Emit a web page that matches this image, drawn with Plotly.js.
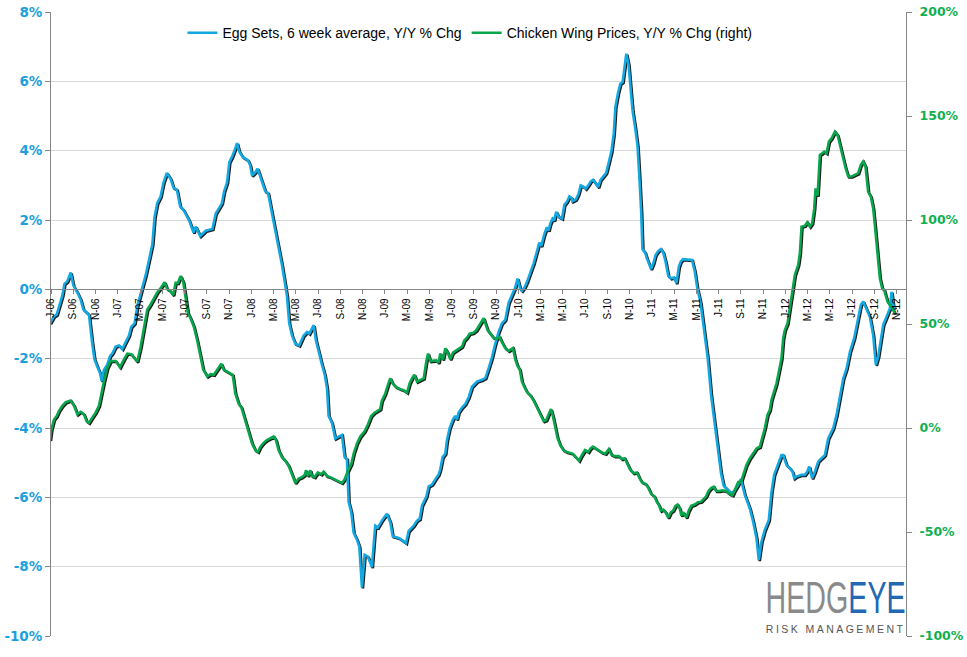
<!DOCTYPE html>
<html>
<head>
<meta charset="utf-8">
<script src="https://cdn.plot.ly/plotly-3.0.1.min.js"></script>
<style>
html,body{margin:0;padding:0;background:#fff;}
#chart{width:967px;height:657px;}
</style>
</head>
<body>
<div id="chart"></div>
<script>
// x positions are months elapsed since July 2006 (J-06 = 0)
const tickLabels = ['J-06','S-06','N-06','J-07','M-07','M-07','J-07','S-07','N-07','J-08','M-08','M-08','J-08','S-08','N-08','J-09','M-09','M-09','J-09','S-09','N-09','J-10','M-10','M-10','J-10','S-10','N-10','J-11','M-11','M-11','J-11','S-11','N-11','J-12','M-12','M-12','J-12','S-12','N-12'];
const leftTicks = [-10,-8,-6,-4,-2,0,2,4,6,8];
const rightTicks = [-100,-50,0,50,100,150,200];

// Egg Sets, 6 week average, Y/Y % Chg (left axis, %)
const eggMonths = [0,0.36,0.6,0.8,1.1,1.3,1.55,1.86,2.1,2.46,2.75,3.0,3.3,3.5,3.8,4.0,4.3,4.5,4.64,4.85,5.15,5.4,5.6,5.9,6.2,6.5,6.8,7.1,7.3,7.6,7.85,8.2,8.6,9.0,9.2,9.4,9.64,9.94,10.2,10.5,10.85,11.1,11.4,11.7,12.0,12.5,12.9,13.1,13.5,14.0,14.6,14.9,
15.2,15.45,15.65,15.91,16.12,16.36,16.66,16.81,17.02,17.32,17.8,18.0,18.16,18.46,18.66,18.9,19.2,19.35,19.6,19.9,20.25,20.55,20.85,21.15,21.3,21.5,21.75,22.05,22.4,22.8,23.1,23.3,23.7,23.9,24.14,24.44,24.7,24.9,25.04,25.34,25.64,25.94,26.24,26.48,26.69,26.84,27.08,27.29,27.59,27.8,28.04,28.28,28.57,28.93,29.23,29.47,29.83,30.28,30.59,30.8,
31.34,31.79,32.0,32.24,32.69,32.99,33.23,33.44,33.65,33.83,34.04,34.34,34.63,34.93,35.08,35.29,35.53,35.68,35.92,36.22,36.43,36.58,36.73,37.03,37.33,37.63,37.93,38.38,38.83,39.13,39.43,39.72,40.02,40.32,40.62,40.92,41.22,41.52,41.82,42.03,42.27,42.42,42.66,42.87,43.17,43.47,43.77,43.98,44.16,44.43,44.66,44.81,44.96,45.17,45.32,45.5,45.72,46.02,46.23,46.47,46.68,46.92,
46.96,47.26,47.5,47.7,48.0,48.15,48.39,48.59,48.8,49.04,49.28,49.48,49.78,49.99,50.23,50.46,50.67,50.82,51.06,51.26,51.47,51.65,51.8,52.0,52.15,52.36,52.6,52.81,52.96,53.13,53.25,53.49,53.64,53.85,54.02,54.23,54.44,54.68,54.91,55.12,55.33,55.57,55.8,56.1,56.31,56.52,56.69,56.9,57.35,57.7,57.94,58.18,58.47,58.83,59.13,59.42,59.72,60.02,60.31,60.55,60.85,61.2,61.5,61.8,62.1,
62.45,62.9,63.2,63.5,63.71,63.95,64.25,64.61,64.85,65.09,65.45,65.75,65.9,66.2,66.5,66.74,66.89,67.1,67.55,67.85,68.06,68.24,68.39,68.51,68.75,69.05,69.35,69.65,69.95,70.4,70.7,71.0,71.3,71.6,71.9,72.28,72.58,72.88,73.09,73.39,73.69,73.99,74.23,74.44,74.68,74.89,75.19,75.49,75.64,75.79,75.94];
const eggValues = [-1.01,-0.81,-0.76,-0.51,-0.22,0.13,0.2,0.46,0.08,-0.12,-0.32,-0.61,-0.69,-0.76,-1.6,-2.05,-2.3,-2.45,-2.67,-2.35,-2.2,-1.95,-1.88,-1.68,-1.65,-1.75,-1.55,-1.36,-1.11,-1.01,-0.51,-0.12,0.38,0.97,1.27,2.06,2.46,2.65,3.05,3.33,3.15,2.9,2.85,2.36,2.26,1.96,1.61,1.78,1.51,1.66,1.71,2.16,
2.3,2.45,2.8,3.05,3.64,3.79,4.04,4.19,3.94,3.79,3.69,3.54,3.25,3.35,3.45,3.2,2.95,2.8,2.75,2.26,1.76,1.27,0.67,0.08,-0.22,-1.01,-1.36,-1.6,-1.65,-1.36,-1.26,-1.31,-1.06,-1.5,-1.85,-2.2,-2.5,-2.89,-3.68,-3.88,-4.33,-4.28,-4.23,-4.87,-4.92,-6.16,-6.46,-7.05,-7.25,-7.45,-8.63,-7.69,-7.74,-8.04,-6.85,-6.9,-6.7,-6.5,-6.75,-7.15,
-7.2,-7.3,-7.35,-7.0,-6.85,-6.7,-6.65,-6.26,-6.11,-6.01,-5.71,-5.66,-5.51,-5.37,-5.22,-4.87,-4.77,-4.38,-4.03,-3.78,-3.68,-3.78,-3.58,-3.44,-3.34,-3.14,-2.84,-2.69,-2.64,-2.59,-2.3,-2.0,-1.6,-1.26,-1.01,-0.91,-0.42,-0.17,0.03,0.28,-0.02,-0.07,0.03,0.18,0.43,0.72,1.07,1.32,1.22,1.56,1.76,1.66,1.86,2.01,1.96,2.21,2.06,2.01,2.41,2.5,2.65,2.6,
2.51,2.56,2.72,2.97,2.92,2.87,2.97,3.08,3.13,3.03,2.92,3.13,3.23,3.33,3.64,3.95,4.46,5.23,5.64,5.9,5.95,6.41,6.77,6.46,5.95,5.13,4.62,4.1,3.28,2.26,1.13,1.03,0.87,0.67,0.56,0.72,0.97,1.08,1.13,1.03,0.77,0.36,0.29,0.31,0.15,0.62,0.77,0.84,0.84,0.82,0.51,0.0,-0.41,-1.23,-2.05,-3.08,-3.9,-4.62,-5.33,-5.69,-5.79,-5.9,-5.85,-5.7,-5.5,
-5.96,-6.35,-6.73,-7.21,-7.84,-7.31,-6.97,-6.68,-5.87,-5.38,-5.1,-4.81,-4.81,-5.1,-5.19,-5.29,-5.48,-5.43,-5.38,-5.38,-5.29,-5.14,-5.34,-5.48,-5.29,-5.0,-4.9,-4.81,-4.33,-4.04,-3.65,-3.08,-2.6,-2.31,-1.83,-1.44,-0.96,-0.48,-0.38,-0.63,-0.82,-1.35,-2.21,-1.97,-1.44,-1.06,-0.82,-0.58,-0.1,-0.48,-0.58];

// Chicken Wing Prices, Y/Y % Chg (right axis, %)
const wingMonths = [0,0.12,0.36,0.6,0.81,1.11,1.41,1.86,2.16,2.46,2.75,3.05,3.29,3.5,3.8,4.1,4.4,4.61,4.85,5.15,5.45,5.9,6.29,6.65,6.95,7.31,7.54,7.84,8.14,8.44,8.74,9.04,9.34,9.64,10.0,10.3,10.54,10.78,11.08,11.29,11.5,11.74,11.98,12.19,12.4,12.63,12.93,13.23,13.53,13.77,14.13,14.43,14.73,15.03,
15.4,15.61,15.91,16.21,16.42,16.66,16.96,17.2,17.5,17.86,18.16,18.46,18.69,18.9,19.2,19.5,19.8,20.1,20.31,20.55,20.85,21.15,21.45,21.75,22.05,22.35,22.65,22.89,23.01,23.19,23.4,23.54,23.78,24.08,24.38,24.59,24.89,25.19,25.49,25.7,25.94,26.24,26.48,26.78,27.08,27.29,27.59,27.89,28.28,28.57,28.87,29.17,29.47,29.68,29.83,30.13,30.37,30.58,30.79,31.09,
31.49,31.79,32.09,32.33,32.54,32.75,32.99,33.23,33.59,33.83,33.98,34.19,34.49,34.72,34.93,35.08,35.32,35.53,35.74,35.98,36.22,36.58,36.82,37.03,37.24,37.48,37.72,38.02,38.32,38.62,38.83,38.98,39.13,39.34,39.57,39.87,40.17,40.41,40.62,40.92,41.22,41.43,41.61,41.82,42.03,42.22,42.42,42.63,42.87,43.17,43.47,43.77,44.07,44.37,44.6,44.81,45.02,45.2,45.41,45.62,45.86,46.16,46.46,46.76,
46.96,47.26,47.55,47.79,48.09,48.39,48.59,48.8,49.04,49.34,49.63,49.93,50.23,50.46,50.76,51.12,51.41,51.65,51.86,52.15,52.45,52.75,52.96,53.19,53.55,53.79,54.02,54.32,54.53,54.74,54.91,55.12,55.33,55.57,55.8,56.01,56.22,56.4,56.61,56.75,56.9,57.05,57.2,57.41,57.64,57.94,58.24,58.53,58.77,58.98,59.19,59.42,59.66,59.87,60.17,60.46,60.76,61.06,61.35,61.65,61.86,62.1,
62.3,62.6,62.9,63.2,63.5,63.8,64.01,64.25,64.49,64.7,64.85,65.09,65.3,65.51,65.75,65.9,66.05,66.29,66.41,66.59,66.74,66.95,67.1,67.25,67.4,67.55,67.85,68.06,68.3,68.51,68.69,68.81,68.99,69.11,69.2,69.41,69.59,69.8,70.01,70.25,70.4,70.55,70.79,71.0,71.3,71.51,71.75,72.05,72.34,72.64,72.88,73.09,73.3,73.54,73.78,73.99,74.14,74.29,74.44,74.59,74.8,74.98,75.1,75.28,75.49,75.7,75.94];
const wingValues = [-6.3,-1.3,3.6,5.3,7.8,10.2,11.9,12.7,10.2,6.1,7.3,6.1,2.8,2.0,4.5,6.9,10.2,16.0,21.8,28.4,31.7,31.7,28.7,32.5,35.3,35.0,33.3,31.4,38.3,48.2,56.4,58.9,62.2,64.7,67.2,69.6,66.3,65.5,63.4,69.3,69.3,72.6,69.6,61.4,54.8,52.3,48.2,41.6,33.3,27.6,24.3,25.4,25.1,27.6,
30.4,27.6,26.7,25.9,25.1,16.0,11.1,9.4,3.6,-3.0,-7.9,-11.2,-12.0,-9.6,-7.6,-6.3,-5.4,-4.6,-6.3,-11.2,-14.5,-16.2,-18.6,-22.8,-26.9,-24.8,-24.1,-23.1,-20.8,-23.6,-20.8,-23.6,-24.1,-21.9,-22.8,-21.5,-23.6,-24.1,-24.8,-25.2,-26.1,-26.9,-25.2,-21.1,-17.8,-12.9,-7.9,-4.6,-2.1,1.2,5.3,6.9,7.8,8.6,12.7,16.0,20.1,23.4,21.0,19.3,
18.2,17.7,16.5,21.0,23.4,25.1,21.8,22.6,23.4,31.7,35.3,31.7,31.7,32.0,30.9,35.3,32.5,37.8,35.8,32.5,35.8,37.0,37.5,38.6,41.6,42.9,44.9,45.2,46.5,49.0,51.2,52.3,49.8,46.5,44.9,42.9,42.4,43.2,40.8,37.95,36.6,37.5,37.95,32.5,29.2,27.6,21.8,19.3,16.8,15.2,12.7,9.4,6.1,2.8,3.3,6.1,8.6,5.3,-0.5,-5.4,-8.7,-11.2,-12.0,-12.5,
-12.8,-14.5,-16.2,-13.7,-11.1,-12.0,-10.3,-9.4,-10.3,-11.6,-12.3,-12.8,-10.6,-13.3,-14.0,-14.0,-15.4,-15.0,-17.1,-20.5,-22.2,-21.9,-24.3,-26.5,-27.4,-29.4,-32.1,-33.3,-35.9,-37.6,-40.2,-39.7,-41.0,-43.6,-41.0,-40.2,-37.9,-37.3,-39.3,-42.7,-41.0,-42.7,-43.6,-40.2,-37.9,-37.3,-36.2,-35.9,-34.2,-33.3,-30.8,-29.4,-28.7,-30.8,-30.8,-30.4,-30.8,-32.1,-32.8,-29.1,-26.5,-26.5,
-23.1,-18.3,-15.1,-12.7,-10.3,-9.5,-5.4,-0.6,5.8,8.2,13.0,17.0,21.0,26.6,33.0,42.6,46.6,49.8,53.8,60.3,65.9,73.1,75.5,77.9,83.5,96.3,96.8,98.4,96.3,97.9,105.1,114.7,111.2,122.8,130.8,131.6,132.4,131.6,137.2,138.8,140.4,142.0,140.4,135.6,129.2,124.4,120.4,120.4,121.2,122.0,126.0,127.6,125.2,113.1,110.7,105.1,97.1,87.5,79.5,71.5,66.7,65.9,63.5,60.3,58.7,57.1,54.6];

const leftRange = [-10, 8];
const rightRange = [-100, 200];
const xRange = [0, 76.85];

const eggColor = '#12A8E2';
const wingColor = '#07A54C';
const shadowColor = '#1b1b1b';

// one pixel in data units, used to lift the coloured lines above their shadows
const pxX = (xRange[1]-xRange[0])/855;
const pxL = (leftRange[1]-leftRange[0])/624;
const pxR = (rightRange[1]-rightRange[0])/624;

const tickVals = tickLabels.map((_, i) => i*2);

const traces = [
  {x: eggMonths, y: eggValues, xaxis:'x', yaxis:'y', type:'scatter', mode:'lines',
   line:{color:shadowColor, width:2.6}, showlegend:false, hoverinfo:'skip'},
  {x: wingMonths, y: wingValues, xaxis:'x', yaxis:'y2', type:'scatter', mode:'lines',
   line:{color:shadowColor, width:2.6}, showlegend:false, hoverinfo:'skip'},
  {x: eggMonths, y: eggValues, xaxis:'x2', yaxis:'y3', type:'scatter', mode:'lines',
   name:'Egg Sets, 6 week average, Y/Y % Chg', line:{color:eggColor, width:2.6}},
  {x: wingMonths, y: wingValues, xaxis:'x2', yaxis:'y4', type:'scatter', mode:'lines',
   name:'Chicken Wing Prices, Y/Y % Chg (right)', line:{color:wingColor, width:2.6}}
];

const axisGrey = '#868686';
const tickFontL = {family:'DejaVu Sans, Verdana', size:13.5, color:'#1C9FE0', weight:700};
const tickFontR = {family:'DejaVu Sans, Verdana', size:12.5, color:'#0FAF4F', weight:700};
const layout = {
  width: 967, height: 657,
  margin: {l:51, r:61, t:12, b:21, pad:0},
  paper_bgcolor:'#ffffff', plot_bgcolor:'#ffffff',
  showlegend: true,
  legend: {orientation:'h', x:0.49, xanchor:'center', y:0.966, yanchor:'middle',
           font:{family:'Liberation Sans, Arial', size:14, color:'#000'},
           bgcolor:'rgba(0,0,0,0)', itemwidth:30, tracegroupgap:0},
  xaxis: {range:xRange, anchor:'free', position:10/18, showline:true, linecolor:axisGrey, linewidth:1,
          tickmode:'array', tickvals:tickVals, ticktext:tickLabels, tickangle:-90,
          ticks:'outside', ticklen:4, tickcolor:axisGrey,
          tickfont:{family:'Liberation Sans, Arial', size:10, color:'#000'},
          showgrid:false, zeroline:false, fixedrange:true},
  yaxis: {range:leftRange, tickmode:'array', tickvals:leftTicks, ticktext:leftTicks.map(v => v + '%'),
          showline:true, linecolor:axisGrey, ticks:'outside', ticklen:5, tickcolor:axisGrey,
          tickfont:tickFontL, showgrid:true, gridcolor:'#d9d9d9', gridwidth:1, zeroline:false},
  yaxis2: {range:rightRange, tickmode:'array', tickvals:rightTicks, ticktext:rightTicks.map(v => v + '%'),
           overlaying:'y', side:'right', anchor:'x',
           showline:true, linecolor:axisGrey, ticks:'outside', ticklen:5, tickcolor:axisGrey,
           ticklabelstandoff:5, tickfont:tickFontR, showgrid:false, zeroline:false},
  xaxis2: {range:[xRange[0]+pxX, xRange[1]+pxX], overlaying:'x', visible:false, anchor:'y3'},
  yaxis3: {range:[leftRange[0]-pxL, leftRange[1]-pxL], overlaying:'y', visible:false, anchor:'x2'},
  yaxis4: {range:[rightRange[0]-pxR, rightRange[1]-pxR], overlaying:'y', visible:false, anchor:'x2'},
  annotations: [
    {xref:'paper', yref:'paper', x:0.917, y:0.062, xanchor:'center', yanchor:'middle', showarrow:false,
     text:"<span style='color:#8a8a8a'>HEDG</span><span style='color:#2368B3'>EYE</span>",
     font:{family:'Liberation Sans, Arial', size:44, color:'#8a8a8a'}},
    {xref:'paper', yref:'paper', x:0.916, y:0.011, xanchor:'center', yanchor:'middle', showarrow:false,
     text:'RISK MANAGEMENT',
     font:{family:'Liberation Sans, Arial', size:10.5, color:'#555555'}}
  ]
};

Plotly.newPlot('chart', traces, layout, {displayModeBar:false, staticPlot:true}).then(function(gd){
  // condense the logo word and letter-space the tagline to the logo's width
  const texts = gd.querySelectorAll('.annotation-text');
  if (texts[0]) { texts[0].setAttribute('textLength', '140'); texts[0].setAttribute('lengthAdjust', 'spacingAndGlyphs'); }
  if (texts[1]) { texts[1].setAttribute('textLength', '137'); texts[1].setAttribute('lengthAdjust', 'spacing'); }
});
</script>
</body>
</html>
